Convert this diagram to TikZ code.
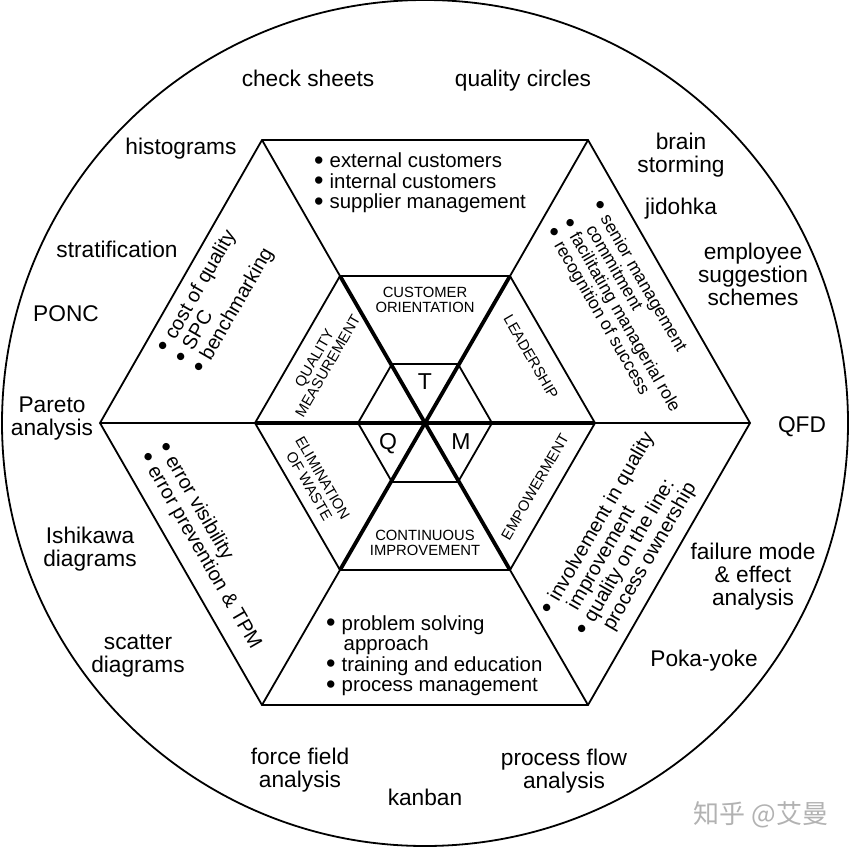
\documentclass[tikz,border=0pt]{standalone}
\usepackage{fontspec}
\setmainfont{Liberation Sans}
\newfontfamily\cjkfont{Noto Sans CJK SC}
\newcommand{\dotitem}{\raisebox{-1.5pt}{\fontsize{27}{27}\selectfont\textbullet}\hspace{6pt}}
\newcommand{\dotskip}{\hspace{17.5pt}}
\tikzset{
    tool/.style={align=center,inner sep=0pt,font=\fontsize{22.7}{23}\selectfont,execute at begin node=\strut,execute at end node=\strut},
    item/.style={align=left,inner sep=0pt,font=\fontsize{20.4}{20.5}\selectfont},
    slant/.style={font=\fontsize{20}{20.5}\selectfont},
    tight/.style={font=\fontsize{17.6}{17.8}\selectfont},
    theme/.style={align=center,inner sep=0pt,font=\fontsize{14.8}{15.5}\selectfont},
    letter/.style={inner sep=0pt,font=\fontsize{23}{25}\selectfont},
    thin line/.style={line width=1.8pt},
    thick line/.style={line width=3.8pt}
}
\begin{document}
\begin{tikzpicture}[x=1pt,y=-1pt]
    \useasboundingbox (0,0) rectangle (850,850);

    \coordinate (c) at (425,423);
    \draw[thin line] (c) circle (423);

    % outer hexagon
    \coordinate (o1) at (750,423);
    \coordinate (o2) at (588,140);
    \coordinate (o3) at (262,140);
    \coordinate (o4) at (100,423);
    \coordinate (o5) at (262,705);
    \coordinate (o6) at (588,705);
    % middle hexagon
    \coordinate (m1) at (595,423);
    \coordinate (m2) at (510,276);
    \coordinate (m3) at (340,276);
    \coordinate (m4) at (255,423);
    \coordinate (m5) at (340,570);
    \coordinate (m6) at (510,570);
    % inner hexagon
    \coordinate (i1) at (492,423);
    \coordinate (i2) at (458,364);
    \coordinate (i3) at (392,364);
    \coordinate (i4) at (358,423);
    \coordinate (i5) at (392,482);
    \coordinate (i6) at (458,482);

    \draw[thin line] (o1) -- (o2) -- (o3) -- (o4) -- (o5) -- (o6) -- cycle;
    \draw[thin line] (m1) -- (m2) -- (m3) -- (m4) -- (m5) -- (m6) -- cycle;
    \draw[thin line] (i1) -- (i2) -- (i3) -- (i4) -- (i5) -- (i6) -- cycle;

    \foreach \k in {1,...,6}
        \draw[thin line] (m\k) -- (o\k);
    \foreach \k in {1,...,6}
        \draw[thick line] (c) -- (m\k);

    \node[letter] (t) at (425,382) {T};
    \node[letter] (q) at (388,444) {Q};
    \node[letter] (m) at (461,442) {M};

    \node[theme] (customer) at (425,300) {CUSTOMER\\ORIENTATION};
    \node[theme] (improvement) at (425,543) {CONTINUOUS\\IMPROVEMENT};
    \node[theme,rotate=60] (measurement) at (321,362) {QUALITY\\MEASUREMENT};
    \node[theme,rotate=-60] (leadership) at (531,357) {LEADERSHIP};
    \node[theme,rotate=-60] (waste) at (316,482) {ELIMINATION\\OF WASTE};
    \node[theme,rotate=60] (empowerment) at (535,487) {EMPOWERMENT};

    \node[item,anchor=west] (top) at (314,183) {\dotitem external customers\\\dotitem internal customers\\\dotitem supplier management};
    \node[item,anchor=west] (bottom) at (326,655.5) {\dotitem problem solving\\\dotskip approach\\\dotitem training and education\\\dotitem process management};
    \node[item,slant,rotate=60,anchor=west] (left) at (180.5,362) {\dotitem cost of quality\\\dotitem SPC\\\dotitem benchmarking};
    \node[item,tight,rotate=-60,anchor=west] (right) at (573,216) {\dotitem senior management\\\dotskip commitment\\\dotitem facilitating managerial role\\\dotitem recognition of success};
    \node[item,slant,rotate=-60,anchor=west] (lowleft) at (153,449) {\dotitem error visibility\\\dotitem error prevention \& TPM};
    \node[item,slant,rotate=60,anchor=west] (lowright) at (573,629) {\dotitem involvement in quality\\\dotskip improvement\\\dotitem quality on the line:\\\dotskip process ownership};

    \node[tool] (checksheets) at (308,81.4) {check sheets};
    \node[tool] (circles) at (523,81.4) {quality circles};
    \node[tool] (histograms) at (181,149.4) {histograms};
    \node[tool] (brain) at (681,155.9) {brain\\storming};
    \node[tool] (jidohka) at (681,209.4) {jidohka};
    \node[tool] (stratification) at (117,252.4) {stratification};
    \node[tool] (suggestion) at (753,277.4) {employee\\suggestion\\schemes};
    \node[tool] (ponc) at (66,316.4) {PONC};
    \node[tool] (pareto) at (52,419.9) {Pareto\\analysis};
    \node[tool] (qfd) at (802,427.4) {QFD};
    \node[tool] (ishikawa) at (90,549.9) {Ishikawa\\diagrams};
    \node[tool] (failure) at (753,577.4) {failure mode\\\& effect\\analysis};
    \node[tool] (scatter) at (138,656.9) {scatter\\diagrams};
    \node[tool] (pokayoke) at (704,661.4) {Poka-yoke};
    \node[tool] (force) at (300,770.9) {force field\\analysis};
    \node[tool] (flow) at (564,771.9) {process flow\\analysis};
    \node[tool] (kanban) at (425,800.4) {kanban};

    \node[inner sep=0pt,text=black!30,font=\fontsize{26}{28}\selectfont\cjkfont] (mark) at (761,815) {知乎 @艾曼};
\end{tikzpicture}
\end{document}
